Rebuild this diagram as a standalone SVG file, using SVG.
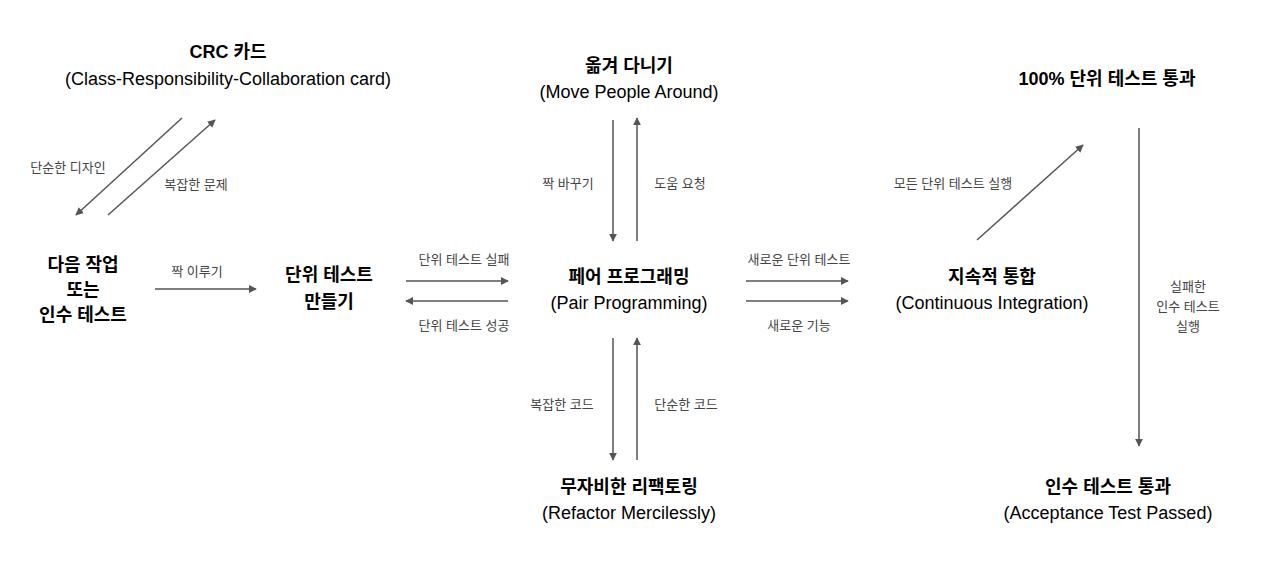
<svg xmlns="http://www.w3.org/2000/svg" width="1280" height="573" viewBox="0 0 1280 573">
<style>
text{font-family:"Liberation Sans","Noto Sans CJK KR",sans-serif;text-anchor:middle;fill:#000}
.t{font-size:18px;font-weight:bold}
.s{font-size:18px}
.l{font-size:13px;fill:#444}
line{stroke:#555;stroke-width:1.5;marker-end:url(#a)}
</style>
<defs><marker id="a" viewBox="0 0 10 10" refX="9" refY="5" markerWidth="8" markerHeight="8" orient="auto" markerUnits="userSpaceOnUse"><path d="M0,0L10,5L0,10z" fill="#555"/></marker></defs>
<rect width="1280" height="573" fill="#fff"/>
<g id="crc"><text class="t" x="228" y="58">CRC 카드</text><text class="s" x="228" y="85">(Class-Responsibility-Collaboration card)</text></g>
<g id="next"><text class="t" x="83" y="271">다음 작업</text><text class="t" x="83" y="296">또는</text><text class="t" x="83" y="321">인수 테스트</text></g>
<g id="unit"><text class="t" x="329" y="281">단위 테스트</text><text class="t" x="329" y="308">만들기</text></g>
<g id="pair"><text class="t" x="629" y="283">페어 프로그래밍</text><text class="s" x="629" y="309">(Pair Programming)</text></g>
<g id="move"><text class="t" x="629" y="72">옮겨 다니기</text><text class="s" x="629" y="98">(Move People Around)</text></g>
<g id="refactor"><text class="t" x="629" y="493">무자비한 리팩토링</text><text class="s" x="629" y="519">(Refactor Mercilessly)</text></g>
<g id="ci"><text class="t" x="992" y="283">지속적 통합</text><text class="s" x="992" y="309">(Continuous Integration)</text></g>
<g id="pass100"><text class="t" x="1107" y="85">100% 단위 테스트 통과</text></g>
<g id="accept"><text class="t" x="1108" y="493">인수 테스트 통과</text><text class="s" x="1108" y="519">(Acceptance Test Passed)</text></g>
<g id="connectors">
<line x1="182" y1="118" x2="76" y2="215"/><line x1="108" y1="215" x2="215" y2="120"/>
<text class="l" x="68" y="172">단순한 디자인</text><text class="l" x="196" y="189">복잡한 문제</text>
<line x1="155" y1="289" x2="256" y2="289"/><text class="l" x="197" y="276">짝 이루기</text>
<line x1="406" y1="281" x2="508" y2="281"/><line x1="508" y1="301" x2="406" y2="301"/>
<text class="l" x="464" y="264">단위 테스트 실패</text><text class="l" x="464" y="330">단위 테스트 성공</text>
<line x1="613" y1="120" x2="613" y2="241"/><line x1="637" y1="241" x2="637" y2="118"/>
<text class="l" x="568" y="188">짝 바꾸기</text><text class="l" x="680" y="188">도움 요청</text>
<line x1="613" y1="338" x2="613" y2="460"/><line x1="637" y1="460" x2="637" y2="338"/>
<text class="l" x="562" y="409">복잡한 코드</text><text class="l" x="686" y="409">단순한 코드</text>
<line x1="746" y1="281" x2="848" y2="281"/><line x1="746" y1="301" x2="848" y2="301"/>
<text class="l" x="799" y="264">새로운 단위 테스트</text><text class="l" x="799" y="330">새로운 기능</text>
<line x1="977" y1="240" x2="1083" y2="145"/><text class="l" x="953" y="188">모든 단위 테스트 실행</text>
<line x1="1139" y1="128" x2="1139" y2="446"/>
<text class="l" x="1188" y="291">실패한</text><text class="l" x="1188" y="311">인수 테스트</text><text class="l" x="1188" y="331">실행</text>
</g>
</svg>
